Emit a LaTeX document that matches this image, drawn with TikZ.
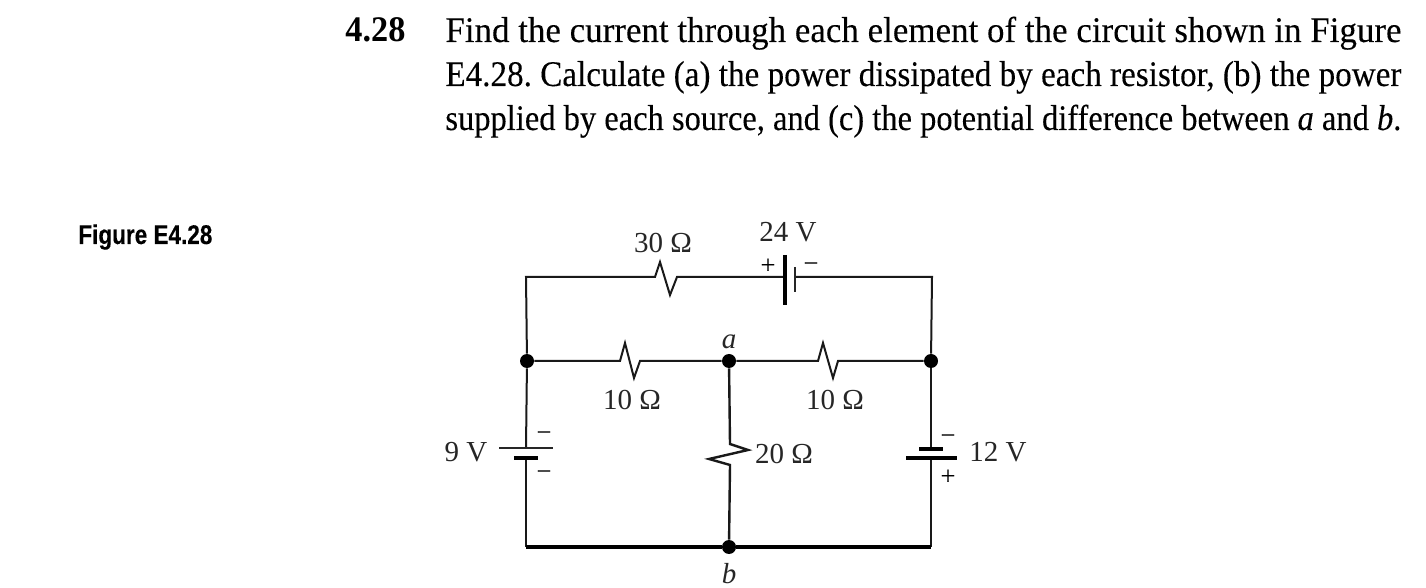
\documentclass[tikz,border=0pt]{standalone}
\usepackage{graphicx}
\usepackage{fontspec}
\setmainfont{Liberation Serif}
\newfontfamily\figfont{Liberation Sans}
\frenchspacing
\newcommand{\bodyline}[1]{\resizebox{478pt}{\height}{\fontsize{18}{22}\selectfont\addfontfeature{FakeBold=0.15}#1}}
\tikzset{
  wire/.style={line width=1pt,line join=miter,black!90},
  heavywire/.style={line width=1.7pt,black},
  thinplate/.style={line width=0.8pt,black!85},
  thickplate/.style={line width=1.7pt,black},
  dot/.style={circle,fill=black,inner sep=0pt,minimum size=7pt},
  bodytext/.style={anchor=base west,inner sep=0pt,text=black},
  lab/.style={inner sep=0pt,font=\fontsize{14.5}{16}\selectfont,text=black!85},
  sign/.style={inner sep=0pt,font=\fontsize{13}{14}\selectfont\addfontfeature{FakeBold=0.4},text=black}
}
\begin{document}
\begin{tikzpicture}[x=0.5pt,y=-0.5pt]
\useasboundingbox (0,0) rectangle (1426,588);
% text
\node[bodytext] (num) at (345,42) {\resizebox{30pt}{\height}{\fontsize{18}{22}\selectfont\bfseries 4.28}};
\node[bodytext] (l1) at (445,42) {\bodyline{Find the current through each element of the circuit shown in Figure}};
\node[bodytext] (l2) at (445,86) {\bodyline{E4.28. Calculate (a) the power dissipated by each resistor, (b) the power}};
\node[bodytext] (l3) at (445,130) {\bodyline{supplied by each source, and (c) the potential difference between \textit{a} and \textit{b}.}};
\node[bodytext] (fig) at (78,244) {\resizebox{67pt}{\height}{\figfont\bfseries\fontsize{13.5}{15}\selectfont\addfontfeature{FakeBold=0.3}Figure E4.28}};
% corners and junctions
\coordinate (tl) at (526,277);
\coordinate (tr) at (932,277);
\coordinate (bl) at (526,547);
\coordinate (br) at (931,547);
\node[dot] (nl) at (527,361) {};
\node[dot] (na) at (729,361) {};
\node[dot] (nr) at (931,361) {};
\node[dot] (nb) at (729,547) {};
% top branch
\coordinate (r1a) at (655,277);
\coordinate (r1b) at (660,262);
\coordinate (r1c) at (670,295);
\coordinate (r1d) at (677,277);
\coordinate (bt1) at (785,277);
\coordinate (bt1u) at (785,255);
\coordinate (bt1d) at (785,305);
\coordinate (bt2) at (795,277);
\coordinate (bt2u) at (795,267);
\coordinate (bt2d) at (795,292);
\draw[wire] (nl) -- (tl) -- (r1a) -- (r1b) -- (r1c) -- (r1d) -- (bt1);
\draw[wire] (bt2) -- (tr) -- (nr);
\draw[thickplate] (bt1u) -- (bt1d);
\draw[thinplate,line width=1pt] (bt2u) -- (bt2d);
% middle branch
\coordinate (r2a) at (620,361);
\coordinate (r2b) at (625,343);
\coordinate (r2c) at (634,378);
\coordinate (r2d) at (640,361);
\coordinate (r3a) at (818,361);
\coordinate (r3b) at (823,343);
\coordinate (r3c) at (833,378);
\coordinate (r3d) at (838,361);
\draw[wire] (nl) -- (r2a) -- (r2b) -- (r2c) -- (r2d) -- (na);
\draw[wire] (na) -- (r3a) -- (r3b) -- (r3c) -- (r3d) -- (nr);
% centre branch
\coordinate (r4a) at (730,444);
\coordinate (r4b) at (748,450);
\coordinate (r4c) at (709,459);
\coordinate (r4d) at (730,465);
\draw[wire,line width=1.2pt] (na) -- (r4a) -- (r4b) -- (r4c) -- (r4d) -- (nb);
% left battery
\coordinate (lb1) at (526,448);
\coordinate (lb1l) at (499,448);
\coordinate (lb1r) at (553,448);
\coordinate (lb2) at (526,458);
\coordinate (lb2l) at (514,458);
\coordinate (lb2r) at (538,458);
\draw[wire] (nl) -- (lb1);
\draw[wire] (lb2) -- (bl);
\draw[thinplate] (lb1l) -- (lb1r);
\draw[thickplate] (lb2l) -- (lb2r);
% right battery
\coordinate (rb1) at (931,449);
\coordinate (rb1l) at (919,449);
\coordinate (rb1r) at (943,449);
\coordinate (rb2) at (931,458);
\coordinate (rb2l) at (906,458);
\coordinate (rb2r) at (957,458);
\draw[wire] (nr) -- (rb1);
\draw[wire] (rb2) -- (br);
\draw[thickplate] (rb1l) -- (rb1r);
\draw[thickplate] (rb2l) -- (rb2r);
% bottom wire
\draw[heavywire] (bl) -- (nb) -- (br);
% labels
\node[lab] (l30) at (663,243) {30 Ω};
\node[lab] (l24) at (788,232) {24 V};
\node[lab] (la) at (729,342) {\textit{a}};
\node[lab] (l10a) at (632,400) {10 Ω};
\node[lab] (l10b) at (835,400) {10 Ω};
\node[lab] (l20) at (784,454) {20 Ω};
\node[lab] (l9) at (466,452) {9 V};
\node[lab] (l12) at (998,452) {12 V};
\node[lab] (lb) at (729,574) {\textit{b}};
\node[sign] (pt) at (768,266) {+};
\node[sign] (mt) at (811,267) {−};
\node[sign] (ml1) at (544,436) {−};
\node[sign] (ml2) at (544,475) {−};
\node[sign] (mr) at (948,439) {−};
\node[sign] (pr) at (948,477) {+};
\end{tikzpicture}
\end{document}
